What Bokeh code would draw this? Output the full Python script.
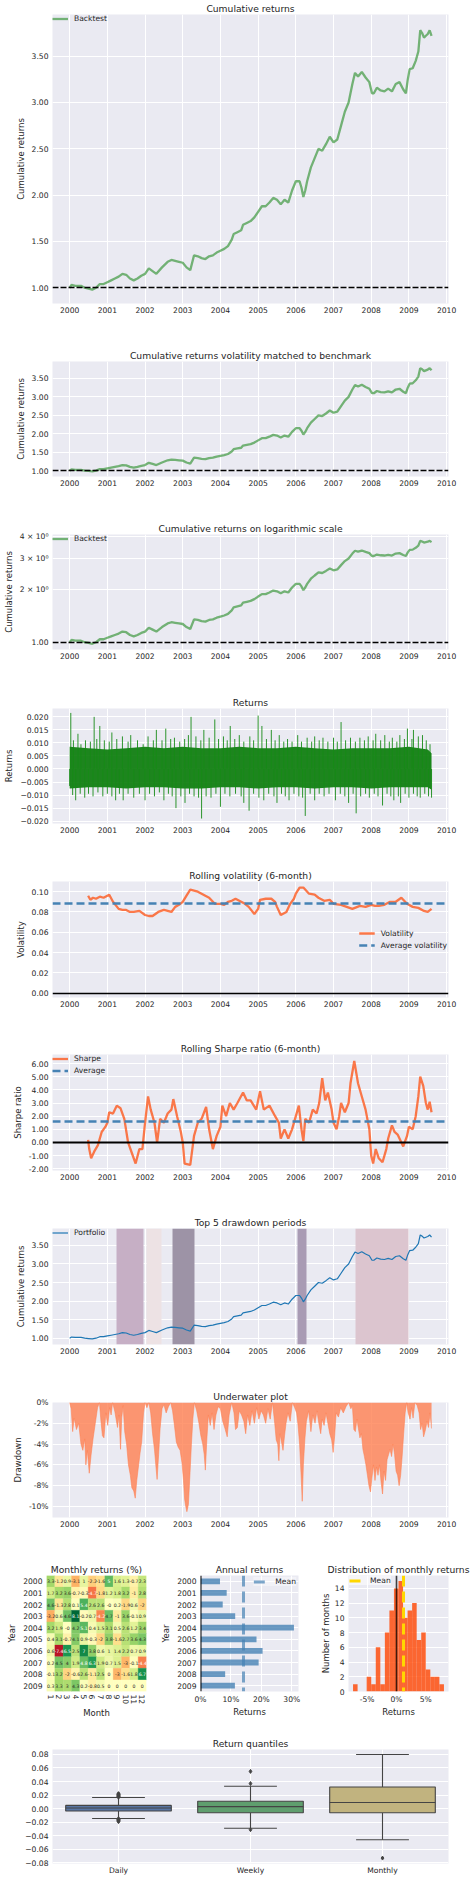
import numpy as np
from bokeh.plotting import figure
from bokeh.layouts import column, row
from bokeh.models import FixedTicker, Legend, LegendItem, Range1d
from bokeh.core.properties import value
from bokeh.embed import file_html
from bokeh.resources import INLINE

# ------------------------------------------------------------------ data
year_ticks = [2000, 2001, 2002, 2003, 2004, 2005, 2006, 2007, 2008, 2009, 2010]
year_tick_labels = ["2000", "2001", "2002", "2003", "2004", "2005", "2006", "2007", "2008", "2009", "2010"]

cum_ticks = [1.0, 1.5, 2.0, 2.5, 3.0, 3.5]
cum_tick_labels = ["1.00", "1.50", "2.00", "2.50", "3.00", "3.50"]
log_ticks = [1, 2, 3, 4]
log_tick_labels = ["1.00", "2 \u00d7 10\u2070", "3 \u00d7 10\u2070", "4 \u00d7 10\u2070"]

cum_pts = [(2000.00, 1.00), (2000.05, 1.03), (2000.15, 1.02), (2000.30, 1.02), (2000.40, 1.00), (2000.50, 0.99),
           (2000.60, 0.98), (2000.70, 1.00), (2000.80, 1.04), (2000.90, 1.04), (2001.00, 1.06), (2001.10, 1.08),
           (2001.20, 1.10), (2001.30, 1.12), (2001.40, 1.15), (2001.50, 1.14), (2001.60, 1.10), (2001.70, 1.08),
           (2001.80, 1.10), (2001.90, 1.13), (2002.00, 1.15), (2002.10, 1.21), (2002.20, 1.18), (2002.30, 1.15),
           (2002.45, 1.22), (2002.60, 1.28), (2002.70, 1.30), (2002.80, 1.29), (2002.90, 1.28), (2003.00, 1.27),
           (2003.10, 1.22), (2003.20, 1.19), (2003.30, 1.35), (2003.40, 1.34), (2003.50, 1.32), (2003.60, 1.31),
           (2003.70, 1.34), (2003.80, 1.35), (2003.90, 1.38), (2004.00, 1.40), (2004.10, 1.42), (2004.20, 1.45),
           (2004.30, 1.52), (2004.35, 1.58), (2004.45, 1.60), (2004.55, 1.62), (2004.60, 1.68), (2004.70, 1.70),
           (2004.80, 1.72), (2004.90, 1.76), (2005.00, 1.82), (2005.10, 1.88), (2005.20, 1.88), (2005.30, 1.92),
           (2005.40, 1.97), (2005.50, 1.95), (2005.60, 1.90), (2005.70, 1.95), (2005.80, 1.92), (2005.90, 2.05),
           (2006.00, 2.15), (2006.10, 2.15), (2006.15, 2.08), (2006.20, 1.98), (2006.25, 2.05), (2006.30, 2.15),
           (2006.40, 2.30), (2006.50, 2.40), (2006.60, 2.50), (2006.70, 2.48), (2006.80, 2.55), (2006.90, 2.63),
           (2007.00, 2.57), (2007.10, 2.60), (2007.20, 2.75), (2007.30, 2.90), (2007.40, 3.00), (2007.50, 3.20),
           (2007.57, 3.32), (2007.65, 3.28), (2007.75, 3.33), (2007.85, 3.27), (2007.95, 3.22), (2008.02, 3.10),
           (2008.07, 3.10), (2008.15, 3.16), (2008.25, 3.13), (2008.35, 3.12), (2008.45, 3.15), (2008.55, 3.12),
           (2008.65, 3.20), (2008.75, 3.22), (2008.85, 3.14), (2008.92, 3.10), (2008.97, 3.25), (2009.02, 3.36),
           (2009.10, 3.37), (2009.18, 3.45), (2009.25, 3.55), (2009.30, 3.78), (2009.35, 3.75), (2009.40, 3.70),
           (2009.45, 3.72), (2009.50, 3.74), (2009.55, 3.78), (2009.60, 3.72)]

ret_ticks = [-0.02, -0.015, -0.01, -0.005, 0.0, 0.005, 0.01, 0.015, 0.02]
ret_tick_labels = ["\u22120.020", "\u22120.015", "\u22120.010", "\u22120.005", "0.000", "0.005", "0.010", "0.015", "0.020"]
ret_band_x = [2000.0, 2000.5, 2001.0, 2001.5, 2002.0, 2002.5, 2003.0, 2003.5, 2004.0, 2004.5, 2005.0,
              2005.5, 2006.0, 2006.5, 2007.0, 2007.5, 2008.0, 2008.5, 2009.0, 2009.5, 2009.6]
ret_band_hi = [0.0085, 0.008, 0.0075, 0.008, 0.0085, 0.008, 0.0085, 0.008, 0.008, 0.0085, 0.008,
               0.008, 0.0085, 0.008, 0.0075, 0.008, 0.008, 0.008, 0.0085, 0.0075, 0.006]
ret_band_lo = [-0.0075, -0.007, -0.007, -0.0075, -0.007, -0.007, -0.0075, -0.0075, -0.007, -0.007, -0.0075,
               -0.007, -0.007, -0.0075, -0.007, -0.007, -0.0075, -0.007, -0.007, -0.007, -0.008]
ret_spikes = [(2000.03, 0.0215), (2000.10, 0.011), (2000.22, 0.0135), (2000.30, 0.0095), (2000.42, 0.011),
              (2000.55, 0.0105), (2000.65, 0.020), (2000.72, 0.0115), (2000.80, 0.0165), (2000.92, 0.011),
              (2001.05, 0.0105), (2001.12, 0.014), (2001.25, 0.0115), (2001.40, 0.0125), (2001.55, 0.0105),
              (2001.62, 0.013), (2001.80, 0.011), (2001.95, 0.0095), (2002.08, 0.0125), (2002.22, 0.011),
              (2002.30, 0.015), (2002.45, 0.011), (2002.55, 0.0155), (2002.68, 0.0115), (2002.78, 0.012),
              (2002.92, 0.0105), (2003.05, 0.0115), (2003.15, 0.013), (2003.22, 0.020), (2003.35, 0.0125),
              (2003.48, 0.011), (2003.56, 0.015), (2003.70, 0.012), (2003.85, 0.019), (2003.95, 0.0115),
              (2004.08, 0.0125), (2004.18, 0.011), (2004.26, 0.0165), (2004.38, 0.0115), (2004.50, 0.013),
              (2004.62, 0.0105), (2004.78, 0.0125), (2004.88, 0.011), (2005.00, 0.0205), (2005.10, 0.0165),
              (2005.22, 0.0115), (2005.35, 0.015), (2005.45, 0.011), (2005.56, 0.013), (2005.68, 0.0105),
              (2005.78, 0.0115), (2005.90, 0.0105), (2006.05, 0.013), (2006.15, 0.0105), (2006.30, 0.012),
              (2006.42, 0.0105), (2006.50, 0.0125), (2006.62, 0.011), (2006.72, 0.012), (2006.85, 0.0105),
              (2007.00, 0.012), (2007.10, 0.0105), (2007.20, 0.018), (2007.32, 0.011), (2007.45, 0.012),
              (2007.58, 0.0105), (2007.70, 0.012), (2007.82, 0.011), (2007.92, 0.0125), (2008.05, 0.011),
              (2008.12, 0.0135), (2008.25, 0.011), (2008.36, 0.013), (2008.48, 0.0105), (2008.56, 0.012),
              (2008.68, 0.0105), (2008.76, 0.013), (2008.88, 0.0115), (2008.96, 0.0155), (2009.08, 0.0115),
              (2009.12, 0.015), (2009.25, 0.0125), (2009.36, 0.013), (2009.46, 0.011), (2009.56, 0.0095),
              (2000.00, -0.0065), (2000.08, -0.010), (2000.16, -0.012), (2000.28, -0.0095), (2000.40, -0.011),
              (2000.50, -0.0095), (2000.62, -0.0105), (2000.75, -0.009), (2000.88, -0.0105), (2001.00, -0.0095),
              (2001.12, -0.0105), (2001.22, -0.012), (2001.32, -0.0095), (2001.42, -0.012), (2001.55, -0.0095),
              (2001.70, -0.011), (2001.85, -0.0095), (2002.00, -0.012), (2002.12, -0.0095), (2002.25, -0.0105),
              (2002.38, -0.009), (2002.50, -0.012), (2002.62, -0.0095), (2002.72, -0.0105), (2002.82, -0.015),
              (2002.95, -0.0105), (2003.06, -0.013), (2003.18, -0.0095), (2003.30, -0.0105), (2003.42, -0.011),
              (2003.50, -0.019), (2003.62, -0.0105), (2003.75, -0.011), (2003.88, -0.0095), (2004.00, -0.0145),
              (2004.12, -0.0095), (2004.25, -0.0105), (2004.40, -0.0095), (2004.55, -0.0105), (2004.62, -0.013),
              (2004.76, -0.016), (2004.88, -0.0095), (2005.02, -0.011), (2005.15, -0.012), (2005.28, -0.0095),
              (2005.42, -0.0105), (2005.50, -0.013), (2005.62, -0.0095), (2005.72, -0.0105), (2005.82, -0.012),
              (2005.95, -0.0095), (2006.08, -0.0105), (2006.18, -0.011), (2006.25, -0.018), (2006.38, -0.0095),
              (2006.50, -0.012), (2006.62, -0.0095), (2006.75, -0.0105), (2006.88, -0.0095), (2007.05, -0.012),
              (2007.18, -0.0095), (2007.30, -0.0105), (2007.40, -0.013), (2007.52, -0.0095), (2007.60, -0.017),
              (2007.72, -0.0105), (2007.85, -0.0095), (2007.95, -0.011), (2008.08, -0.0095), (2008.18, -0.0105),
              (2008.30, -0.014), (2008.42, -0.0095), (2008.52, -0.0105), (2008.60, -0.012), (2008.72, -0.0105),
              (2008.78, -0.013), (2008.90, -0.0095), (2009.00, -0.011), (2009.12, -0.0095), (2009.22, -0.0105),
              (2009.30, -0.011), (2009.42, -0.0095), (2009.52, -0.0105), (2009.60, -0.011)]

vol_ticks = [0.0, 0.02, 0.04, 0.06, 0.08, 0.10]
vol_tick_labels = ["0.00", "0.02", "0.04", "0.06", "0.08", "0.10"]
vol_pts = [(2000.49, 0.096), (2000.55, 0.092), (2000.62, 0.094), (2000.70, 0.093), (2000.80, 0.095),
           (2000.90, 0.094), (2001.00, 0.096), (2001.05, 0.097), (2001.15, 0.090), (2001.30, 0.083),
           (2001.40, 0.082), (2001.50, 0.082), (2001.60, 0.080), (2001.70, 0.080), (2001.85, 0.081),
           (2002.00, 0.077), (2002.10, 0.076), (2002.20, 0.076), (2002.35, 0.080), (2002.50, 0.082),
           (2002.60, 0.081), (2002.70, 0.080), (2002.80, 0.085), (2002.90, 0.087), (2003.00, 0.090),
           (2003.10, 0.096), (2003.20, 0.102), (2003.30, 0.101), (2003.40, 0.100), (2003.55, 0.097),
           (2003.70, 0.094), (2003.85, 0.088), (2004.00, 0.088), (2004.10, 0.087), (2004.20, 0.090),
           (2004.30, 0.091), (2004.40, 0.093), (2004.55, 0.090), (2004.65, 0.088), (2004.75, 0.085),
           (2004.90, 0.078), (2005.00, 0.083), (2005.05, 0.092), (2005.20, 0.093), (2005.35, 0.093),
           (2005.45, 0.090), (2005.50, 0.085), (2005.60, 0.077), (2005.75, 0.080), (2005.85, 0.088),
           (2005.95, 0.093), (2006.00, 0.098), (2006.10, 0.104), (2006.20, 0.104), (2006.35, 0.098),
           (2006.50, 0.097), (2006.60, 0.094), (2006.75, 0.091), (2006.90, 0.092), (2007.00, 0.088),
           (2007.20, 0.087), (2007.35, 0.085), (2007.50, 0.083), (2007.70, 0.086), (2007.85, 0.085),
           (2008.00, 0.087), (2008.10, 0.086), (2008.20, 0.086), (2008.35, 0.087), (2008.50, 0.090),
           (2008.65, 0.090), (2008.80, 0.094), (2008.95, 0.088), (2009.10, 0.085), (2009.25, 0.084),
           (2009.40, 0.081), (2009.50, 0.080), (2009.60, 0.083)]
vol_mean = 0.0884

sharpe_ticks = [-2, -1, 0, 1, 2, 3, 4, 5, 6]
sharpe_tick_labels = ["-2.00", "-1.00", "0.00", "1.00", "2.00", "3.00", "4.00", "5.00", "6.00"]
sharpe_pts = [(2000.49, 0.2), (2000.52, -0.5), (2000.57, -1.2), (2000.65, -0.7), (2000.75, -0.2), (2000.85, 0.8),
              (2000.95, 1.2), (2001.00, 1.5), (2001.05, 2.3), (2001.15, 2.2), (2001.25, 2.8), (2001.35, 2.6),
              (2001.45, 1.8), (2001.55, 0.0), (2001.65, -0.8), (2001.75, -1.6), (2001.85, -0.5), (2001.93, -0.5),
              (2002.00, 1.5), (2002.08, 3.5), (2002.15, 2.5), (2002.25, 1.5), (2002.32, 0.0), (2002.40, 1.8),
              (2002.50, 1.5), (2002.60, 2.2), (2002.70, 2.5), (2002.75, 3.3), (2002.85, 2.0), (2002.95, 0.8),
              (2003.00, 0.0), (2003.05, -1.6), (2003.20, -1.7), (2003.30, 0.5), (2003.40, 1.5), (2003.50, 1.8),
              (2003.62, 2.7), (2003.70, 1.0), (2003.80, -0.5), (2003.90, 0.5), (2004.00, 1.2), (2004.05, 2.8),
              (2004.15, 2.0), (2004.25, 3.0), (2004.35, 2.5), (2004.45, 3.0), (2004.60, 3.8), (2004.70, 3.2),
              (2004.80, 3.2), (2004.95, 2.5), (2005.05, 3.9), (2005.15, 2.5), (2005.30, 2.8), (2005.45, 2.0),
              (2005.55, 1.5), (2005.60, 0.3), (2005.70, 1.0), (2005.80, 0.3), (2005.90, 1.0), (2006.00, 2.0),
              (2006.08, 2.8), (2006.15, 1.0), (2006.20, 0.1), (2006.25, 1.8), (2006.35, 1.5), (2006.45, 2.5),
              (2006.55, 2.2), (2006.62, 3.0), (2006.70, 4.9), (2006.78, 3.2), (2006.85, 3.8), (2006.95, 2.5),
              (2007.00, 1.5), (2007.08, 1.0), (2007.15, 2.0), (2007.20, 3.0), (2007.30, 2.3), (2007.40, 3.0),
              (2007.45, 4.5), (2007.55, 6.2), (2007.65, 4.5), (2007.75, 3.5), (2007.85, 2.5), (2007.95, 1.0),
              (2008.00, -1.0), (2008.05, -1.6), (2008.12, -0.5), (2008.20, -1.2), (2008.30, -1.5), (2008.40, -0.5),
              (2008.45, 0.3), (2008.55, 1.3), (2008.62, 0.8), (2008.70, 0.6), (2008.80, 0.0), (2008.85, -0.3),
              (2008.95, 0.5), (2009.00, 1.2), (2009.10, 1.0), (2009.18, 2.0), (2009.25, 3.5), (2009.30, 5.0),
              (2009.38, 4.3), (2009.45, 3.0), (2009.50, 2.5), (2009.55, 3.1), (2009.60, 2.3)]
sharpe_mean = 1.61

dd_start = [2002.73, 2006.04, 2001.23, 2007.57, 2002.03]
dd_end = [2003.30, 2006.27, 2001.97, 2008.99, 2002.43]
dd_colors = ["#9d93a6", "#a99bb4", "#c6afc5", "#dcc5cf", "#ede2e4"]

uw_ticks = [-10, -8, -6, -4, -2, 0]
uw_tick_labels = ["-10%", "-8%", "-6%", "-4%", "-2%", "0%"]
uw_pts = [(2000.00, 0.0), (2000.04, -0.6), (2000.08, -2.8), (2000.12, -1.5), (2000.18, -2.6), (2000.24, -2.0),
          (2000.30, -4.0), (2000.35, -4.6), (2000.40, -3.5), (2000.43, -6.0), (2000.47, -4.6), (2000.52, -6.8),
          (2000.57, -5.0), (2000.62, -3.5), (2000.68, -2.0), (2000.74, -0.5), (2000.79, 0.0), (2000.83, -1.8),
          (2000.87, -3.2), (2000.91, -3.4), (2000.96, -1.0), (2001.01, -2.2), (2001.06, -0.5), (2001.10, -1.2),
          (2001.14, 0.0), (2001.20, -0.9), (2001.27, -2.4), (2001.31, -1.2), (2001.35, -4.5), (2001.38, -1.5),
          (2001.42, -0.3), (2001.46, -2.8), (2001.51, -4.0), (2001.56, -6.0), (2001.61, -7.0), (2001.65, -8.2),
          (2001.70, -8.5), (2001.74, -9.2), (2001.78, -7.5), (2001.83, -6.0), (2001.87, -4.8), (2001.91, -3.8),
          (2001.96, -1.0), (2002.00, 0.0), (2002.05, -0.5), (2002.10, 0.0), (2002.15, -1.0), (2002.20, -3.0),
          (2002.25, -4.5), (2002.29, -6.2), (2002.32, -7.4), (2002.36, -5.0), (2002.40, -2.5), (2002.45, -0.6),
          (2002.50, -0.2), (2002.56, -1.0), (2002.62, -0.4), (2002.68, 0.0), (2002.73, -0.8), (2002.78, -2.2),
          (2002.83, -3.8), (2002.88, -4.3), (2002.93, -4.6), (2002.98, -5.8), (2003.02, -7.5), (2003.05, -9.3),
          (2003.08, -10.0), (2003.11, -10.5), (2003.15, -9.8), (2003.19, -7.0), (2003.23, -4.0), (2003.27, -1.5),
          (2003.31, 0.0), (2003.37, -0.8), (2003.43, -2.0), (2003.48, -3.2), (2003.53, -4.0), (2003.57, -5.0),
          (2003.60, -6.5), (2003.64, -3.5), (2003.68, -1.2), (2003.73, -2.2), (2003.78, -1.0), (2003.83, -2.6),
          (2003.88, -1.2), (2003.94, -0.4), (2004.00, -0.6), (2004.06, -1.8), (2004.12, -2.5), (2004.18, -3.3),
          (2004.23, -1.2), (2004.30, 0.0), (2004.36, -1.0), (2004.40, -2.6), (2004.45, -2.4), (2004.50, -0.8),
          (2004.56, -1.2), (2004.62, -1.8), (2004.67, -3.0), (2004.72, -1.2), (2004.78, -2.2), (2004.84, -0.8),
          (2004.90, -2.0), (2004.96, -0.5), (2005.02, -1.6), (2005.08, -0.8), (2005.14, -1.2), (2005.20, -2.0),
          (2005.26, -0.6), (2005.32, -1.6), (2005.38, 0.0), (2005.44, -2.0), (2005.48, -3.6), (2005.52, -4.0),
          (2005.55, -5.6), (2005.58, -3.0), (2005.62, -3.8), (2005.66, -4.6), (2005.70, -3.2), (2005.74, -2.0),
          (2005.79, -1.0), (2005.85, -1.8), (2005.91, 0.0), (2005.97, -0.5), (2006.02, -1.0), (2006.06, -2.2),
          (2006.10, -4.0), (2006.14, -7.0), (2006.17, -9.5), (2006.20, -6.0), (2006.24, -3.5), (2006.28, -1.8),
          (2006.34, -0.8), (2006.40, -2.8), (2006.45, -1.2), (2006.51, -2.0), (2006.56, -0.8), (2006.61, -2.0),
          (2006.66, -3.0), (2006.70, -1.6), (2006.75, -2.2), (2006.80, -1.0), (2006.85, -2.0), (2006.90, -3.0),
          (2006.95, -3.6), (2006.99, -4.8), (2007.03, -3.2), (2007.07, -1.0), (2007.13, -1.4), (2007.19, -0.5),
          (2007.26, -1.0), (2007.33, -0.4), (2007.40, 0.0), (2007.46, -0.6), (2007.50, -0.3), (2007.54, -2.6),
          (2007.58, -2.8), (2007.62, -1.6), (2007.66, -2.5), (2007.70, -3.4), (2007.74, -3.0), (2007.78, -4.5),
          (2007.82, -5.2), (2007.86, -6.0), (2007.90, -7.0), (2007.94, -8.0), (2007.98, -8.6), (2008.02, -7.2),
          (2008.06, -6.0), (2008.10, -7.5), (2008.14, -6.2), (2008.18, -7.0), (2008.22, -6.0), (2008.26, -7.6),
          (2008.30, -8.8), (2008.34, -6.6), (2008.38, -7.5), (2008.42, -5.5), (2008.46, -5.0), (2008.50, -4.5),
          (2008.54, -5.2), (2008.58, -4.0), (2008.62, -5.0), (2008.66, -6.6), (2008.70, -7.0), (2008.74, -8.0),
          (2008.78, -7.0), (2008.82, -5.2), (2008.86, -3.0), (2008.90, -1.0), (2008.94, 0.0), (2008.98, -1.0),
          (2009.03, -1.6), (2009.07, -0.5), (2009.11, -1.5), (2009.16, 0.0), (2009.22, -0.3), (2009.27, -1.0),
          (2009.31, -2.6), (2009.35, -2.0), (2009.39, -3.3), (2009.44, -2.6), (2009.48, -1.8), (2009.52, -2.4),
          (2009.56, -1.0), (2009.60, -2.5)]

months = [1, 2, 3, 4, 5, 6, 7, 8, 9, 10, 11, 12]
month_labels = ["1", "2", "3", "4", "5", "6", "7", "8", "9", "10", "11", "12"]
heat_years = [2000, 2001, 2002, 2003, 2004, 2005, 2006, 2007, 2008, 2009]
heat_year_labels = ["2000", "2001", "2002", "2003", "2004", "2005", "2006", "2007", "2008", "2009"]
m2000 = [3.3, -1.2, 0.9, -3.1, 1.0, -2.2, -1.6, 5.0, 1.6, 1.3, -0.7, 2.3]
m2001 = [1.7, 3.2, 3.6, -0.7, -0.3, -4.7, -1.8, 1.2, 1.8, 3.2, -1.0, 2.8]
m2002 = [4.6, -1.3, 2.8, 0.1, 5.4, 2.6, 2.6, -0.0, 0.2, -1.9, 0.6, -2.0]
m2003 = [-3.2, 0.6, 4.6, 8.1, -0.2, 0.7, -4.2, 4.7, -1.0, 3.6, -0.1, 0.9]
m2004 = [3.2, 1.9, -0.0, 4.2, 5.1, 0.4, 1.5, 3.1, 0.5, 2.6, 1.2, 3.4]
m2005 = [0.4, 3.1, -0.7, 4.1, 0.9, -0.3, -2.0, 3.8, -1.6, 2.7, 3.6, 4.3]
m2006 = [0.6, -7.4, 6.5, 2.5, 7.0, 3.8, 0.6, 1.0, 1.4, 2.2, 0.7, 0.9]
m2007 = [0.2, 4.5, 4.0, 1.9, 4.8, 6.3, 1.9, 0.7, 1.5, -3.0, -0.1, -4.4]
m2008 = [-0.1, 3.2, -2.0, -0.6, 2.6, -1.1, 2.5, 0.0, -3.0, -1.6, 1.8, 6.7]
m2009 = [0.3, 3.3, 3.0, 4.3, 0.2, -0.8, 0.5, 0.0, 0.0, 0.0, 0.0, 0.0]
monthly_pct = [m2000, m2001, m2002, m2003, m2004, m2005, m2006, m2007, m2008, m2009]

ann_years = [2000, 2001, 2002, 2003, 2004, 2005, 2006, 2007, 2008, 2009]
ann_pct = [6.4, 8.6, 7.3, 11.4, 30.7, 18.4, 20.4, 19.1, 8.1, 11.3]
ann_mean = 14.0
ann_ticks = [0, 10, 20, 30]
ann_tick_labels = ["0%", "10%", "20%", "30%"]

hist_counts = [1, 0, 0, 2, 1, 6, 1, 8, 11, 14, 15, 10, 11, 12, 7, 8, 3, 2, 2, 1]
hist_lo = -7.4
hist_hi = 8.1
hist_mean = 1.2
hist_xticks = [-5, 0, 5]
hist_xtick_labels = ["-5%", "0%", "5%"]
hist_yticks = [0, 2, 4, 6, 8, 10, 12, 14]
hist_ytick_labels = ["0", "2", "4", "6", "8", "10", "12", "14"]

box_names = ["Daily", "Weekly", "Monthly"]
box_q1 = [-0.0035, -0.006, -0.006]
box_med = [0.001, 0.003, 0.009]
box_q3 = [0.0048, 0.011, 0.032]
box_wlo = [-0.0145, -0.029, -0.046]
box_whi = [0.0165, 0.033, 0.080]
box_out_daily = [0.017, 0.0174, 0.0178, 0.0182, 0.0185, 0.019, 0.0194, 0.0198, 0.0202, 0.0205, 0.0209, 0.0213,
                 0.0218, 0.022, -0.015, -0.0154, -0.0158, -0.0162, -0.0166, -0.017, -0.0175, -0.018, -0.0185,
                 -0.019]
box_out_weekly = [0.037, 0.055, -0.031]
box_out_monthly = [-0.073]
box_colors = ["#5875a4", "#5f9e6e", "#c1b37f"]
box_ticks = [-0.08, -0.06, -0.04, -0.02, 0.0, 0.02, 0.04, 0.06, 0.08]
box_tick_labels = ["\u22120.08", "\u22120.06", "\u22120.04", "\u22120.02", "0.00", "0.02", "0.04", "0.06", "0.08"]

# ------------------------------------------------------------------ style helpers
FONT = "DejaVu Sans"
TXT = "#262626"
BG = "#EAEAF2"
X_RANGE = (1999.545, 2010.05)
NAN = [float("nan")]
W = 474


def new_fig(h, frame_h, xr, yr, title, w=W, left=47, right=26, y_type="linear", bg=BG, top=14):
    bottom = h - top - frame_h
    p = figure(width=w, height=h, x_range=Range1d(*xr), y_range=Range1d(*yr), y_axis_type=y_type,
               output_backend="svg", toolbar_location=None,
               min_border_left=left, min_border_right=right, min_border_top=top, min_border_bottom=bottom,
               background_fill_color=bg, border_fill_color="white", outline_line_color=None)
    p.title.text = title
    p.title.align = "center"
    p.title.text_font = FONT
    p.title.text_font_size = "9.2px"
    p.title.text_font_style = "normal"
    p.title.text_color = TXT
    p.title.standoff = 1
    for ax in p.axis:
        ax.axis_line_color = None
        ax.major_tick_line_color = None
        ax.minor_tick_line_color = None
        ax.major_tick_out = 0
        ax.major_tick_in = 0
        ax.major_label_text_font = FONT
        ax.major_label_text_font_size = "7.6px"
        ax.major_label_text_color = TXT
        ax.axis_label_text_font = FONT
        ax.axis_label_text_font_size = "8.5px"
        ax.axis_label_text_font_style = "normal"
        ax.axis_label_text_color = TXT
    p.xaxis.major_label_standoff = 3
    p.yaxis.major_label_standoff = 4
    p.yaxis.axis_label_standoff = 3
    p.xaxis.axis_label_standoff = 1
    for g in p.grid:
        g.grid_line_color = "white"
        g.grid_line_width = 1
    return p


def set_ticks(p, xt=None, xl=None, yt=None, yl=None):
    if xt is not None:
        p.xaxis.ticker = FixedTicker(ticks=xt)
        p.xgrid.ticker = FixedTicker(ticks=xt)
        p.xaxis.major_label_overrides = {t: l for t, l in zip(xt, xl)}
    if yt is not None:
        p.yaxis.ticker = FixedTicker(ticks=yt)
        p.ygrid.ticker = FixedTicker(ticks=yt)
        p.yaxis.major_label_overrides = {t: l for t, l in zip(yt, yl)}


def add_legend(p, items, location, margin=0, padding=6, bg_alpha=0.0, spacing=3, glyph_w=16):
    lg = Legend(items=[LegendItem(label=l, renderers=r) for l, r in items], location=location,
                margin=margin, padding=padding, spacing=spacing, glyph_width=glyph_w, glyph_height=9,
                label_height=9, label_standoff=6, label_text_font=FONT, label_text_font_size="7.6px",
                label_text_color=TXT, border_line_color=None, background_fill_color="white",
                background_fill_alpha=bg_alpha)
    p.add_layout(lg)


cx = [a for a, b in cum_pts]
cy = [b for a, b in cum_pts]

# ------------------------------------------------------------------ 1 cumulative returns
f1 = new_fig(347, 289, X_RANGE, (0.83, 3.95), "Cumulative returns")
set_ticks(f1, year_ticks, year_tick_labels, cum_ticks, cum_tick_labels)
r1 = f1.line(cx, cy, line_color="forestgreen", line_alpha=0.6, line_width=2.3)
f1.hspan(y=[1.0], line_color="black", line_dash="6 2", line_width=1.5)
f1.yaxis.axis_label = "Cumulative returns"
add_legend(f1, [("Backtest", [r1])], "top_left")

# ------------------------------------------------------------------ 2 volatility matched
f2 = new_fig(173, 115, X_RANGE, (0.84, 3.96), "Cumulative returns volatility matched to benchmark")
set_ticks(f2, year_ticks, year_tick_labels, cum_ticks, cum_tick_labels)
f2.line(cx, cy, line_color="forestgreen", line_alpha=0.6, line_width=2.3)
f2.hspan(y=[1.0], line_color="black", line_dash="6 2", line_width=1.5)
f2.yaxis.axis_label = "Cumulative returns"

# ------------------------------------------------------------------ 3 log scale
f3 = new_fig(174, 115, X_RANGE, (0.909, 4.11), "Cumulative returns on logarithmic scale", y_type="log")
set_ticks(f3, year_ticks, year_tick_labels, log_ticks, log_tick_labels)
r3 = f3.line(cx, cy, line_color="forestgreen", line_alpha=0.6, line_width=2.3)
f3.hspan(y=[1.0], line_color="black", line_dash="6 2", line_width=1.5)
f3.yaxis.axis_label = "Cumulative returns"
add_legend(f3, [("Backtest", [r3])], "top_left")

# ------------------------------------------------------------------ 4 returns
f4 = new_fig(173, 115, X_RANGE, (-0.0209, 0.0232), "Returns")
set_ticks(f4, year_ticks, year_tick_labels, ret_ticks, ret_tick_labels)
f4.varea(x=ret_band_x, y1=ret_band_lo, y2=ret_band_hi, fill_color="#077a07", fill_alpha=0.9)
sx = [a for a, b in ret_spikes]
sy = [b for a, b in ret_spikes]
f4.segment(x0=sx, y0=[0.0] * len(sx), x1=sx, y1=sy, line_color="#168a16", line_width=0.9)
f4.yaxis.axis_label = "Returns"

# ------------------------------------------------------------------ 5 rolling volatility
f5 = new_fig(173, 116, X_RANGE, (-0.0043, 0.110), "Rolling volatility (6-month)")
set_ticks(f5, year_ticks, year_tick_labels, vol_ticks, vol_tick_labels)
vx = [a for a, b in vol_pts]
vy = [b for a, b in vol_pts]
r5 = f5.line(vx, vy, line_color="orangered", line_alpha=0.7, line_width=2.3)
f5.hspan(y=[vol_mean], line_color="steelblue", line_dash="8 4", line_width=2.3)
f5.hspan(y=[0.0], line_color="black", line_width=1.6)
r5b = f5.line(NAN, NAN, line_color="steelblue", line_dash="8 4", line_width=2.3)
f5.yaxis.axis_label = "Volatility"
add_legend(f5, [("Volatility", [r5]), ("Average volatility", [r5b])], "center_right", margin=1, padding=5)

# ------------------------------------------------------------------ 6 rolling sharpe
f6 = new_fig(174, 116, X_RANGE, (-2.13, 6.69), "Rolling Sharpe ratio (6-month)")
set_ticks(f6, year_ticks, year_tick_labels, sharpe_ticks, sharpe_tick_labels)
shx = [a for a, b in sharpe_pts]
shy = [b for a, b in sharpe_pts]
r6 = f6.line(shx, shy, line_color="orangered", line_alpha=0.7, line_width=2.3)
f6.hspan(y=[sharpe_mean], line_color="steelblue", line_dash="8 4", line_width=2.3)
f6.hspan(y=[0.0], line_color="black", line_width=1.8)
r6b = f6.line(NAN, NAN, line_color="steelblue", line_dash="8 4", line_width=2.3)
f6.yaxis.axis_label = "Sharpe ratio"
add_legend(f6, [("Sharpe", [r6]), ("Average", [r6b])], "top_left")

# ------------------------------------------------------------------ 7 top 5 drawdown periods
f7 = new_fig(174, 116, X_RANGE, (0.83, 3.955), "Top 5 drawdown periods")
set_ticks(f7, year_ticks, year_tick_labels, cum_ticks, cum_tick_labels)
f7.vstrip(x0=dd_start, x1=dd_end, fill_color=dd_colors, line_color=None)
r7 = f7.line(cx, cy, line_color="#1f77b4", line_width=1.2)
f7.yaxis.axis_label = "Cumulative returns"
add_legend(f7, [("Portfolio", [r7])], "top_left")

# ------------------------------------------------------------------ 8 underwater
f8 = new_fig(173, 115, X_RANGE, (-11.06, 0.0), "Underwater plot")
set_ticks(f8, year_ticks, year_tick_labels, uw_ticks, uw_tick_labels)
ux = [a for a, b in uw_pts]
uy = [b for a, b in uw_pts]
f8.varea(x=ux, y1=uy, y2=[0.0] * len(ux), fill_color="coral", fill_alpha=0.8)
f8.line(ux, uy, line_color="coral", line_alpha=0.7, line_width=0.8)
f8.yaxis.axis_label = "Drawdown"

# ------------------------------------------------------------------ 9a monthly heatmap
RDYLGN = ["#a50026", "#d73027", "#f46d43", "#fdae61", "#fee08b", "#ffffbf",
          "#d9ef8b", "#a6d96a", "#66bd63", "#1a9850", "#006837"]


def _rgb(h):
    return [int(h[i:i + 2], 16) / 255.0 for i in (1, 3, 5)]


def rdylgn(t):
    t = min(max(t, 0.0), 1.0) * 10.0
    i = min(int(t), 9)
    f = t - i
    a, b = _rgb(RDYLGN[i]), _rgb(RDYLGN[i + 1])
    return [a[k] + (b[k] - a[k]) * f for k in range(3)]


def rel_lum(rgb):
    c = [x / 12.92 if x <= 0.03928 else ((x + 0.055) / 1.055) ** 2.4 for x in rgb]
    return 0.2126 * c[0] + 0.7152 * c[1] + 0.0722 * c[2]


flat = [v for rowv in monthly_pct for v in rowv]
vr = max(max(flat), -min(flat))
hx, hy, hc, ht, htc = [], [], [], [], []
for i, yv in enumerate(heat_years):
    for j, mv in enumerate(months):
        v = monthly_pct[i][j]
        rgb = rdylgn((v + vr) / (2 * vr))
        hx.append(mv)
        hy.append(yv)
        hc.append("#%02x%02x%02x" % tuple(int(round(c * 255)) for c in rgb))
        ht.append("{:.2g}".format(v))
        htc.append("#262626" if rel_lum(rgb) > 0.408 else "white")

ROW_H = 174
fa = new_fig(ROW_H, 116, (0.5, 12.5), (2009.5, 1999.5), "Monthly returns (%)", w=158, left=46, right=12,
             bg="white")
set_ticks(fa, months, month_labels, heat_years, heat_year_labels)
fa.grid.visible = False
fa.rect(x=hx, y=hy, width=1, height=1, fill_color=hc, line_color=hc, line_width=0.3)
fa.text(x=hx, y=hy, text=ht, text_color=htc, text_align="center", text_baseline="middle",
        text_font=value(FONT), text_font_size="4.6px")
fa.xaxis.major_label_orientation = "vertical"
fa.xaxis.axis_label = "Month"
fa.yaxis.axis_label = "Year"

# ------------------------------------------------------------------ 9b annual returns
fb = new_fig(ROW_H, 116, (0, 32.2), (2009.5, 1999.5), "Annual returns", w=158, left=39, right=18)
set_ticks(fb, ann_ticks, ann_tick_labels, ann_years, [str(y) for y in ann_years])
fb.hbar(y=ann_years, left=0, right=ann_pct, height=0.5, fill_color="steelblue", fill_alpha=0.8,
        line_color=None)
fb.vspan(x=[ann_mean], line_color="steelblue", line_alpha=0.7, line_dash="11 5", line_width=3)
fb.vspan(x=[0.0], line_color="black", line_width=2)
rb = fb.line(NAN, NAN, line_color="steelblue", line_alpha=0.7, line_dash="11 5", line_width=3)
fb.xaxis.axis_label = "Returns"
fb.xaxis.axis_label_standoff = 0
fb.yaxis.axis_label = "Year"
add_legend(fb, [("Mean", [rb])], "top_right", margin=2, bg_alpha=0.4)

# ------------------------------------------------------------------ 9c distribution of monthly returns
edges = np.linspace(hist_lo, hist_hi, len(hist_counts) + 1)
fc = new_fig(ROW_H, 116, (-8.175, 8.875), (0, 15.75), "Distribution of monthly returns", w=158, left=32,
             right=26)
set_ticks(fc, hist_xticks, hist_xtick_labels, hist_yticks, hist_ytick_labels)
fc.quad(left=edges[:-1], right=edges[1:], bottom=0, top=hist_counts, fill_color="orangered",
        fill_alpha=0.8, line_color=None)
fc.vspan(x=[0.0], line_color="black", line_alpha=0.75, line_width=1.6)
fc.vspan(x=[hist_mean], line_color="gold", line_dash="11 5", line_width=3)
rc = fc.line(NAN, NAN, line_color="gold", line_dash="11 5", line_width=3)
fc.xaxis.axis_label = "Returns"
fc.xaxis.axis_label_standoff = 0
fc.yaxis.axis_label = "Number of months"
fc.yaxis.axis_label_standoff = 1
add_legend(fc, [("Mean", [rc])], "top_left", margin=1, padding=5, bg_alpha=0.5, glyph_w=15)

# ------------------------------------------------------------------ 10 return quantiles
f10 = new_fig(142, 115, (-0.5, 2.5), (-0.081, 0.0873), "Return quantiles")
set_ticks(f10, [0, 1, 2], box_names, box_ticks, box_tick_labels)
f10.xaxis.major_label_standoff = 2
bx = [0, 1, 2]
GRAY = "#444444"
f10.segment(x0=bx, y0=box_wlo, x1=bx, y1=box_q1, line_color=GRAY, line_width=1.1)
f10.segment(x0=bx, y0=box_q3, x1=bx, y1=box_whi, line_color=GRAY, line_width=1.1)
f10.segment(x0=[x - 0.2 for x in bx], y0=box_wlo, x1=[x + 0.2 for x in bx], y1=box_wlo,
            line_color=GRAY, line_width=1.1)
f10.segment(x0=[x - 0.2 for x in bx], y0=box_whi, x1=[x + 0.2 for x in bx], y1=box_whi,
            line_color=GRAY, line_width=1.1)
f10.quad(left=[x - 0.4 for x in bx], right=[x + 0.4 for x in bx], bottom=box_q1, top=box_q3,
         fill_color=box_colors, line_color=GRAY, line_width=1.1)
f10.segment(x0=[x - 0.4 for x in bx], y0=box_med, x1=[x + 0.4 for x in bx], y1=box_med,
            line_color=GRAY, line_width=1.1)
outs = [box_out_daily, box_out_weekly, box_out_monthly]
ox = [bx[i] for i in range(3) for _ in outs[i]]
oy = [v for i in range(3) for v in outs[i]]
f10.scatter(ox, oy, marker="diamond", size=4, fill_color=GRAY, line_color=GRAY)

layout = column(f1, f2, f3, f4, f5, f6, f7, f8, row(fa, fb, fc), f10)
open("out.html", "w").write(file_html(layout, INLINE))
